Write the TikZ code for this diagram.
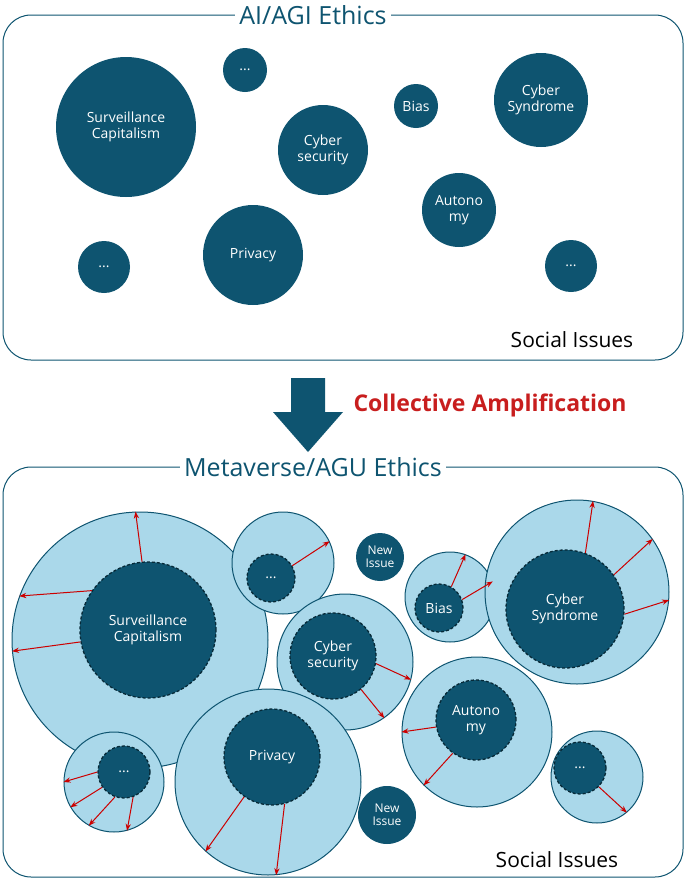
\documentclass[tikz,border=0pt]{standalone}
\usepackage{fontspec}
\setmainfont{Open Sans}
\usepackage{xcolor}
\definecolor{ethic}{RGB}{14,84,112}
\definecolor{lblue}{RGB}{170,216,234}
\definecolor{amp}{RGB}{200,30,30}
\usetikzlibrary{arrows.meta}
\tikzset{
  issue/.style={circle,fill=ethic,text=white,align=center,inner sep=0pt,
    font=\fontsize{14}{16}\selectfont,minimum size=#1},
  outer/.style={circle,fill=lblue,draw=ethic,line width=1pt,minimum size=#1},
  inner/.style={issue=#1,draw=ethic!50!black,dash pattern=on 3pt off 2pt,line width=1.3pt},
  spread/.style={red!80!black,line width=1pt,-{Stealth[length=7pt]}},
  frame/.style={draw=ethic,line width=1pt,rounded corners=28pt},
  title/.style={fill=white,text=ethic,font=\fontsize{25}{28}\selectfont,inner sep=4pt}
}
\begin{document}
\begin{tikzpicture}[x=1pt,y=-1pt]
  \useasboundingbox (0,0) rectangle (685,879);

  % top frame
  \draw [frame] (3,15) rectangle (683,360);
  \node [title] (t1) at (313,15) {AI/AGI Ethics};
  \node (s1) at (572,340) {\fontsize{21}{24}\selectfont Social Issues};

  \node [issue=140] (sc1) at (126,127) {Surveillance\\Capitalism};
  \node [issue=44] (d1) at (245,70) {...};
  \node [issue=90] (cs1) at (323,150) {Cyber\\security};
  \node [issue=44] (b1) at (416,106) {Bias};
  \node [issue=94] (cy1) at (541,100) {Cyber\\Syndrome};
  \node [issue=74] (au1) at (459,210) {Autono\\my};
  \node [issue=100] (pr1) at (253,255) {Privacy};
  \node [issue=52] (d2) at (104,267) {...};
  \node [issue=52] (d3) at (571,266) {...};

  % amplification arrow
  \fill [ethic] (291,378) -- (325,378) -- (325,412) -- (343,412) -- (308,452)
    -- (273,412) -- (291,412) -- cycle;
  \node [text=amp,anchor=west] (ca) at (350,405) {\fontsize{23}{26}\selectfont\bfseries Collective Amplification};

  % bottom frame
  \draw [frame] (3,467) rectangle (683,877);
  \node [title] (t2) at (313,467) {Metaverse/AGU Ethics};

  \node [outer=256] (osc) at (140,640) {};
  \node [outer=102] (od1) at (283,563) {};
  \node [outer=136] (ocs) at (345,662) {};
  \node [outer=90] (ob) at (450,597) {};
  \node [outer=184] (ocy) at (577,592) {};
  \node [outer=150] (oau) at (477,732) {};
  \node [outer=100] (od2) at (114,782) {};
  \node [outer=186] (opr) at (268,782) {};
  \node [outer=92] (od3) at (597,777) {};

  \node [inner=136] (isc) at (148,630) {Surveillance\\Capitalism};
  \node [inner=48] (id1) at (271,578) {...};
  \node [inner=86] (ics) at (333,656) {Cyber\\security};
  \node [inner=48] (ib) at (439,608) {Bias};
  \node [inner=118] (icy) at (565,609) {Cyber\\Syndrome};
  \node [inner=80] (iau) at (476,720) {Autono\\my};
  \node [inner=52] (id2) at (124,772) {...};
  \node [inner=96] (ipr) at (272,757) {Privacy};
  \node [inner=52] (id3) at (580,768) {...};

  \node [issue=48,font=\fontsize{12}{13}\selectfont] (n1) at (380,557) {New\\Issue};
  \node [issue=58,font=\fontsize{12}{13}\selectfont] (n2) at (387,815) {New\\Issue};

  % growth arrows
  \draw [spread] (isc.95) -- (osc.92);
  \draw [spread] (isc.145) -- (osc.160);
  \draw [spread] (isc.190) -- (osc.185);
  \draw [spread] (id1.30) -- (od1.25);
  \draw [spread] (ics.-10) -- (ocs.-15);
  \draw [spread] (ics.-50) -- (ocs.-55);
  \draw [spread] (ib.60) -- (ob.70);
  \draw [spread] (ib.20) -- (ob.20);
  \draw [spread] (icy.70) -- (ocy.80);
  \draw [spread] (icy.35) -- (ocy.35);
  \draw [spread] (icy.-5) -- (ocy.-5);
  \draw [spread] (iau.190) -- (oau.180);
  \draw [spread] (iau.235) -- (oau.225);
  \draw [spread] (id2.180) -- (od2.180);
  \draw [spread] (id2.215) -- (od2.210);
  \draw [spread] (id2.250) -- (od2.240);
  \draw [spread] (id2.290) -- (od2.285);
  \draw [spread] (ipr.235) -- (opr.228);
  \draw [spread] (ipr.285) -- (opr.275);
  \draw [spread] (id3.-45) -- (od3.-50);

  \node (s2) at (557,860) {\fontsize{21}{24}\selectfont Social Issues};
\end{tikzpicture}
\end{document}
